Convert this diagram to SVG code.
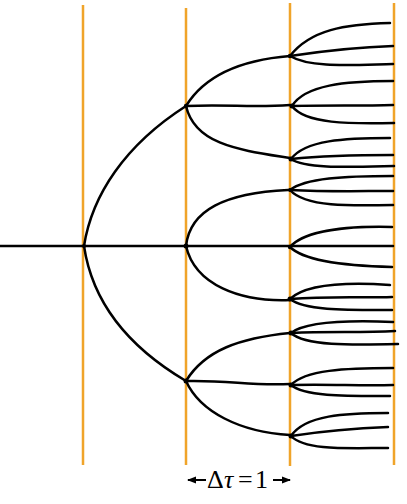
<svg xmlns="http://www.w3.org/2000/svg" width="407" height="504" viewBox="0 0 407 504">
<style>
.g{stroke:#F0A42A;stroke-width:2.5;fill:none}
.b{stroke:#000;stroke-width:2.5;fill:none;stroke-linecap:round;stroke-linejoin:round}
.d{fill:#000}
.t{font-family:"Liberation Serif",serif;font-size:26px;fill:#000}
</style>
<defs>
<marker id="ah" markerWidth="9" markerHeight="8" refX="8" refY="4" orient="auto" markerUnits="userSpaceOnUse">
<path d="M0,0.5 L9,4 L0,7.5 Z" fill="#000"/>
</marker>
</defs>
<rect width="407" height="504" fill="#fff"/>
<g id="grid">
<line class="g" x1="83" y1="5" x2="83" y2="465"/>
<line class="g" x1="186" y1="8" x2="186" y2="465"/>
<line class="g" x1="290" y1="3" x2="290" y2="466"/>
<line class="g" x1="394" y1="3" x2="394" y2="465"/>
</g>
<g id="connectors">
<path class="b" d="M0,246 L393,246"/>
<path class="b" d="M84,246 C92,195 125,145 186,106"/>
<path class="b" d="M84,246 C92,300 125,345 186,381"/>
<path class="b" d="M186,106 C205,75 240,60 290,56"/>
<path class="b" d="M186,106 C230,104 250,108 290,105"/>
<path class="b" d="M186,106 C195,145 240,150 290,158"/>
<path class="b" d="M186,246 C190,210 225,193 288,190"/>
<path class="b" d="M186,246 C195,285 240,302 290,300"/>
<path class="b" d="M186,381 C205,350 240,338 290,333"/>
<path class="b" d="M186,381 C230,380 250,386 290,384"/>
<path class="b" d="M186,381 C200,412 240,432 290,435"/>
<path class="b" d="M290,56 C310,30 345,24 390,23"/>
<path class="b" d="M290,56 C330,50 360,47 393,46"/>
<path class="b" d="M290,56 C310,68 350,65 393,64"/>
<path class="b" d="M292,106 C305,85 345,81 393,81"/>
<path class="b" d="M292,106 C330,105 360,106 393,105"/>
<path class="b" d="M292,106 C305,124 350,124 394,123"/>
<path class="b" d="M291,159 C305,140 345,138 390,138"/>
<path class="b" d="M291,159 C330,155 360,155 393,155"/>
<path class="b" d="M291,159 C305,169 350,167 394,166"/>
<path class="b" d="M290,190 C305,178 345,176 393,176"/>
<path class="b" d="M290,190 C330,192 360,191 393,191"/>
<path class="b" d="M290,190 C305,207 350,206 393,205"/>
<path class="b" d="M290,247 C305,230 350,226 392,227"/>
<path class="b" d="M290,247 C305,262 350,266 392,267"/>
<path class="b" d="M290,299 C305,285 345,282 390,285"/>
<path class="b" d="M290,299 C330,296 360,298 392,297"/>
<path class="b" d="M290,299 C305,311 350,310 392,310"/>
<path class="b" d="M291,333 C305,322 345,320 393,322"/>
<path class="b" d="M291,333 C330,331 360,333 395,331"/>
<path class="b" d="M291,333 C305,346 350,345 398,344"/>
<path class="b" d="M291,385 C305,370 345,368 393,368"/>
<path class="b" d="M291,385 C330,384 360,386 393,385"/>
<path class="b" d="M291,385 C305,397 350,396 390,396"/>
<path class="b" d="M291,436 C305,415 345,413 388,413"/>
<path class="b" d="M291,436 C330,430 360,428 388,427"/>
<path class="b" d="M291,436 C305,451 350,448 388,448"/>
</g>
<g id="nodes">
<circle id="n0" class="d" cx="84" cy="246" r="2"/>
<circle id="n1" class="d" cx="186" cy="106" r="2.2"/>
<circle id="n2" class="d" cx="186" cy="246" r="2.5"/>
<circle id="n3" class="d" cx="186" cy="381" r="2.5"/>
<circle class="d" cx="290" cy="56" r="2.2"/>
<circle class="d" cx="292" cy="106" r="2.5"/>
<circle class="d" cx="291" cy="159" r="2.5"/>
<circle class="d" cx="290" cy="190" r="2"/>
<circle class="d" cx="290" cy="247" r="2.2"/>
<circle class="d" cx="290" cy="299" r="2.5"/>
<circle class="d" cx="291" cy="333" r="2.5"/>
<circle class="d" cx="291" cy="385" r="2.5"/>
<circle class="d" cx="291" cy="436" r="2.5"/>
</g>
<g id="label">
<line x1="206" y1="480" x2="188" y2="480" stroke="#000" stroke-width="2" marker-end="url(#ah)"/>
<line x1="273" y1="480" x2="290" y2="480" stroke="#000" stroke-width="2" marker-end="url(#ah)"/>
<text class="t" y="488"><tspan x="207">Δ</tspan><tspan x="224" font-style="italic">τ</tspan><tspan x="238">=</tspan><tspan x="255">1</tspan></text>
</g>
</svg>
